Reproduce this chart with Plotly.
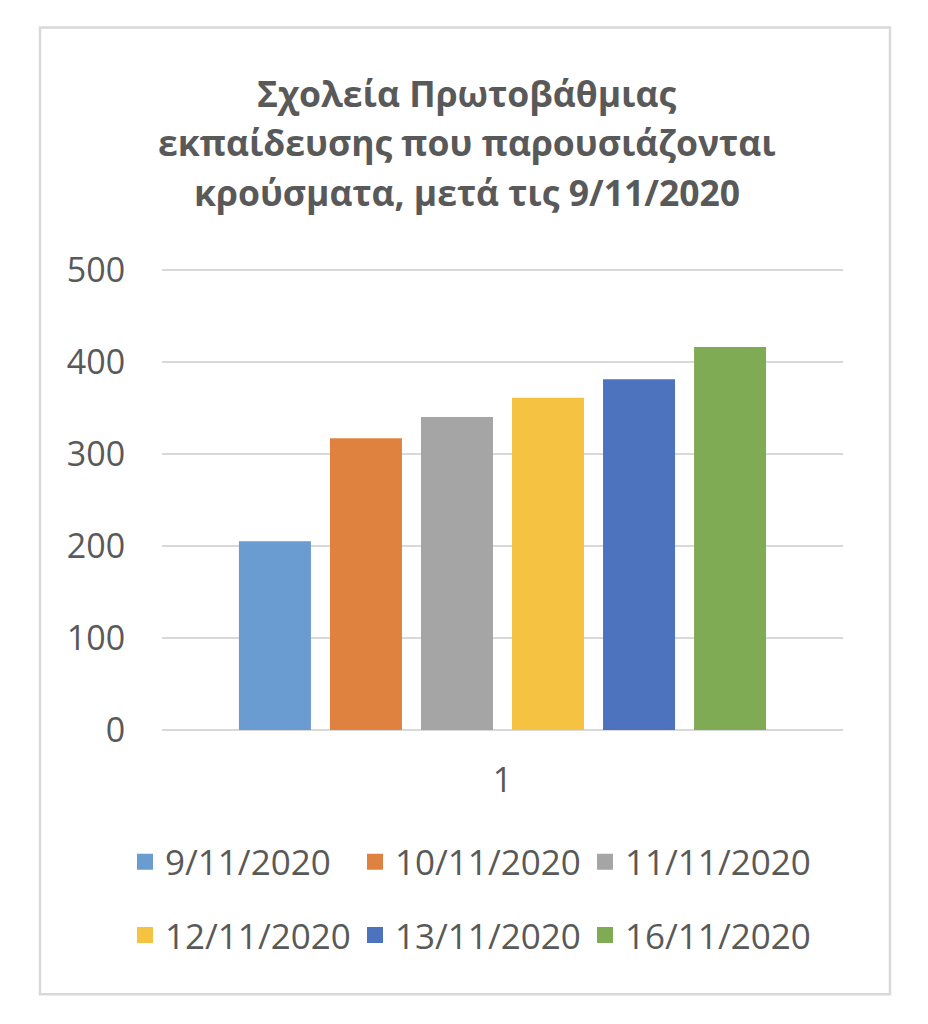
import plotly.graph_objects as go

categories = ["1"]
series_names = ["9/11/2020", "10/11/2020", "11/11/2020", "12/11/2020", "13/11/2020", "16/11/2020"]
series_values = [205, 317, 340, 361, 381, 416]
series_colors = ["#6A9BD1", "#E0823F", "#A5A5A5", "#F5C242", "#4D73BE", "#7FAB55"]
title_lines = ["Σχολεία Πρωτοβάθμιας", "εκπαίδευσης που παρουσιάζονται", "κρούσματα, μετά τις 9/11/2020"]
y_ticks = [0, 100, 200, 300, 400, 500]

TXT = "#595959"
FONT = "Open Sans"

OFF = 8  # page body margin
W, H = 928, 1024
YMAX = 504
PL, PR, PB = 162 - OFF, 843 - OFF, 730 - OFF
PT = PB - 460 * YMAX / 500
L, R, T, B = PL, W - PR, PT, H - PB
pw, ph = PR - PL, PB - PT

def px(xp):
    return (xp - OFF - PL) / pw

def py(yp):
    return (PB - (yp - OFF)) / ph

fig = go.Figure()
for i, (name, val, col) in enumerate(zip(series_names, series_values, series_colors)):
    fig.add_trace(go.Bar(
        x=categories, y=[val], name=name, marker_color=col,
        marker_line_width=0, showlegend=False,
    ))
for i, (name, col) in enumerate(zip(series_names, series_colors)):
    fig.add_trace(go.Scatter(
        x=[None], y=[None], name=name, mode="markers",
        marker=dict(symbol="square", size=16, color=col, line_width=0),
        legend="legend" if i < 3 else "legend2", showlegend=True,
    ))

ann = []
for k, line in enumerate(title_lines):
    ann.append(dict(text="<b>%s</b>" % line, x=px(467), y=py(93 + 49.5 * k),
                    xref="paper", yref="paper", showarrow=False,
                    xanchor="center", yanchor="middle",
                    font=dict(family=FONT, size=35.5, color=TXT)))

legend_common = dict(orientation="h", xanchor="left", yanchor="middle",
                     entrywidth=185, entrywidthmode="pixels", itemwidth=30,
                     font=dict(family=FONT, size=35, color=TXT),
                     bgcolor="rgba(0,0,0,0)", traceorder="normal")

fig.update_layout(
    width=W, height=H,
    margin=dict(l=L, r=R, t=T, b=B),
    paper_bgcolor="white", plot_bgcolor="white",
    barmode="group", bargap=0.198, bargroupgap=0.209,
    showlegend=True,
    legend=dict(x=px(125), y=py(862), **legend_common),
    legend2=dict(x=px(125), y=py(935), **legend_common),
    annotations=ann,
    xaxis=dict(type="category", showgrid=False, showline=False, zeroline=False,
               ticks="outside", ticklen=20, tickcolor="rgba(0,0,0,0)",
               tickfont=dict(family=FONT, size=34, color=TXT)),
    yaxis=dict(range=[0, YMAX], tickvals=y_ticks, showgrid=True, gridcolor="#D9D9D9",
               gridwidth=2, zeroline=True, zerolinecolor="#D9D9D9", zerolinewidth=2,
               showline=False, ticks="outside", ticklen=29, tickcolor="rgba(0,0,0,0)",
               tickfont=dict(family=FONT, size=34, color=TXT)),
    shapes=[dict(type="rect", xref="paper", yref="paper",
                 x0=px(40), x1=px(890), y0=py(994), y1=py(28),
                 line=dict(color="#D9D9D9", width=2.5), fillcolor="rgba(0,0,0,0)",
                 layer="below")],
)

fig.write_html("out.html")
